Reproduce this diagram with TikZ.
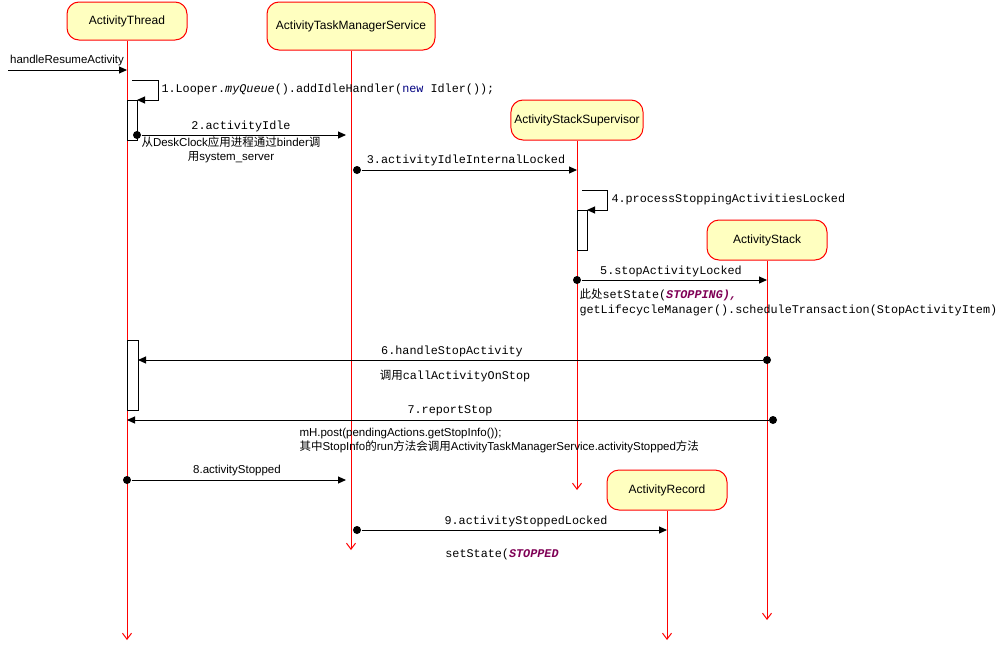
\documentclass[tikz,border=0pt]{standalone}
\usepackage{fontspec}
\setmainfont{Liberation Sans}
\setmonofont{Liberation Mono}
\newfontfamily\cjk{Noto Sans CJK SC}
\usetikzlibrary{arrows.meta}
\definecolor{boxfill}{HTML}{FFFFC0}
\definecolor{kw}{HTML}{7F0055}
\definecolor{kwblue}{HTML}{000080}
\tikzset{
  every path/.style={line width=1pt},
  actor/.style={draw=red,fill=boxfill,rounded corners=12pt,minimum height=38pt,font=\fontsize{12}{14}\selectfont},
  life/.style={draw=red,-{Straight Barb[length=6pt,width=9pt]}},
  msg/.style={draw=black,-{Triangle[length=8pt,width=7pt]}},
  src/.style={fill=black,circle,inner sep=0pt,minimum size=8pt},
  act/.style={draw=black,fill=white},
  lbl/.style={font=\fontsize{11.5}{14}\selectfont,inner sep=0pt},
  mono/.style={font=\fontsize{11.8}{15}\ttfamily,inner sep=0pt},
}
\begin{document}
\begin{tikzpicture}[x=1pt,y=-1pt]
\useasboundingbox (0,0) rectangle (1004,651);
% actors
\node[actor,minimum width=120pt] (at) at (127,21) {ActivityThread};
\node[actor,minimum width=168pt,minimum height=48pt] (atms) at (351,26) {ActivityTaskManagerService};
\node[actor,minimum width=120pt,minimum height=40pt] (ass) at (577,120) {ActivityStackSupervisor};
\node[actor,minimum width=120pt,minimum height=40pt] (as) at (767,240) {ActivityStack};
\node[actor,minimum width=120pt,minimum height=40pt] (ar) at (667,490) {ActivityRecord};
% lifelines
\coordinate (atE) at (127,640);
\coordinate (atmsE) at (351,550);
\coordinate (assE) at (577,490);
\coordinate (asE) at (767,620);
\coordinate (arE) at (667,640);
\draw[life] (at) -- (atE);
\draw[life] (atms) -- (atmsE);
\draw[life] (ass) -- (assE);
\draw[life] (as) -- (asE);
\draw[life] (ar) -- (arE);
% activations
\draw[act] (127,100) rectangle (137,140);
\draw[act] (577,210) rectangle (587,250);
\draw[act] (127,340) rectangle (138,410);
% handleResumeActivity
\coordinate (in) at (8,70);
\coordinate (inE) at (127,70);
\draw[msg] (in) -- (inE);
\node[lbl] at (67,61) {handleResumeActivity};
% 1 self
\coordinate (s1a) at (132,80);
\coordinate (s1b) at (137,100);
\draw[msg] (s1a) -- (158,80) -- (158,100) -- (s1b);
\node[mono,anchor=west] at (161,89) {1.Looper.\textit{myQueue}().addIdleHandler(\textcolor{kwblue}{new} Idler());};
% 2
\node[src] (d2) at (137,135) {};
\coordinate (e2) at (346,135);
\draw[msg] (d2) -- (e2);
\node[mono] at (241,126) {2.activityIdle};
\node[lbl,align=center] at (231,150) {{\cjk 从}DeskClock{\cjk 应用进程通过}binder{\cjk 调}\\{\cjk 用}system\_server};
% 3
\node[src] (d3) at (357,170) {};
\coordinate (e3) at (577,170);
\draw[msg] (d3) -- (e3);
\node[mono] at (466,160) {3.activityIdleInternalLocked};
% 4 self
\coordinate (s4a) at (582,190);
\coordinate (s4b) at (587,210);
\draw[msg] (s4a) -- (607,190) -- (607,210) -- (s4b);
\node[mono,anchor=west] at (611,199) {4.processStoppingActivitiesLocked};
% 5
\node[src] (d5) at (577,280) {};
\coordinate (e5) at (767,280);
\draw[msg] (d5) -- (e5);
\node[mono] at (671,271) {5.stopActivityLocked};
\node[mono,anchor=west,align=left] at (579,302) {{\cjk\fontsize{11.5}{15}\selectfont 此处}setState(\textcolor{kw}{\textbf{\textit{STOPPING),}}}\\getLifecycleManager().scheduleTransaction(StopActivityItem)};
% 6
\node[src] (d6) at (767,360) {};
\coordinate (e6) at (138,360);
\draw[msg] (d6) -- (e6);
\node[mono] at (452,351) {6.handleStopActivity};
\node[mono] at (455,376) {{\cjk\fontsize{11.5}{15}\selectfont 调用}callActivityOnStop};
% 7
\node[src] (d7) at (773,420) {};
\coordinate (e7) at (127,420);
\draw[msg] (d7) -- (e7);
\node[mono] at (450,411) {7.reportStop};
\node[lbl,anchor=west,align=left] at (299,441) {mH.post(pendingActions.getStopInfo());\\{\cjk 其中}StopInfo{\cjk 的}run{\cjk 方法会调用}ActivityTaskManagerService.activityStopped{\cjk 方法}};
% 8
\node[src] (d8) at (127,480) {};
\coordinate (e8) at (346,480);
\draw[msg] (d8) -- (e8);
\node[lbl] at (237,471) {8.activityStopped};
% 9
\node[src] (d9) at (357,530) {};
\coordinate (e9) at (667,530);
\draw[msg] (d9) -- (e9);
\node[mono] at (526,521) {9.activityStoppedLocked};
\node[mono] at (502,554) {setState(\textcolor{kw}{\textbf{\textit{STOPPED}}}};
\end{tikzpicture}
\end{document}
